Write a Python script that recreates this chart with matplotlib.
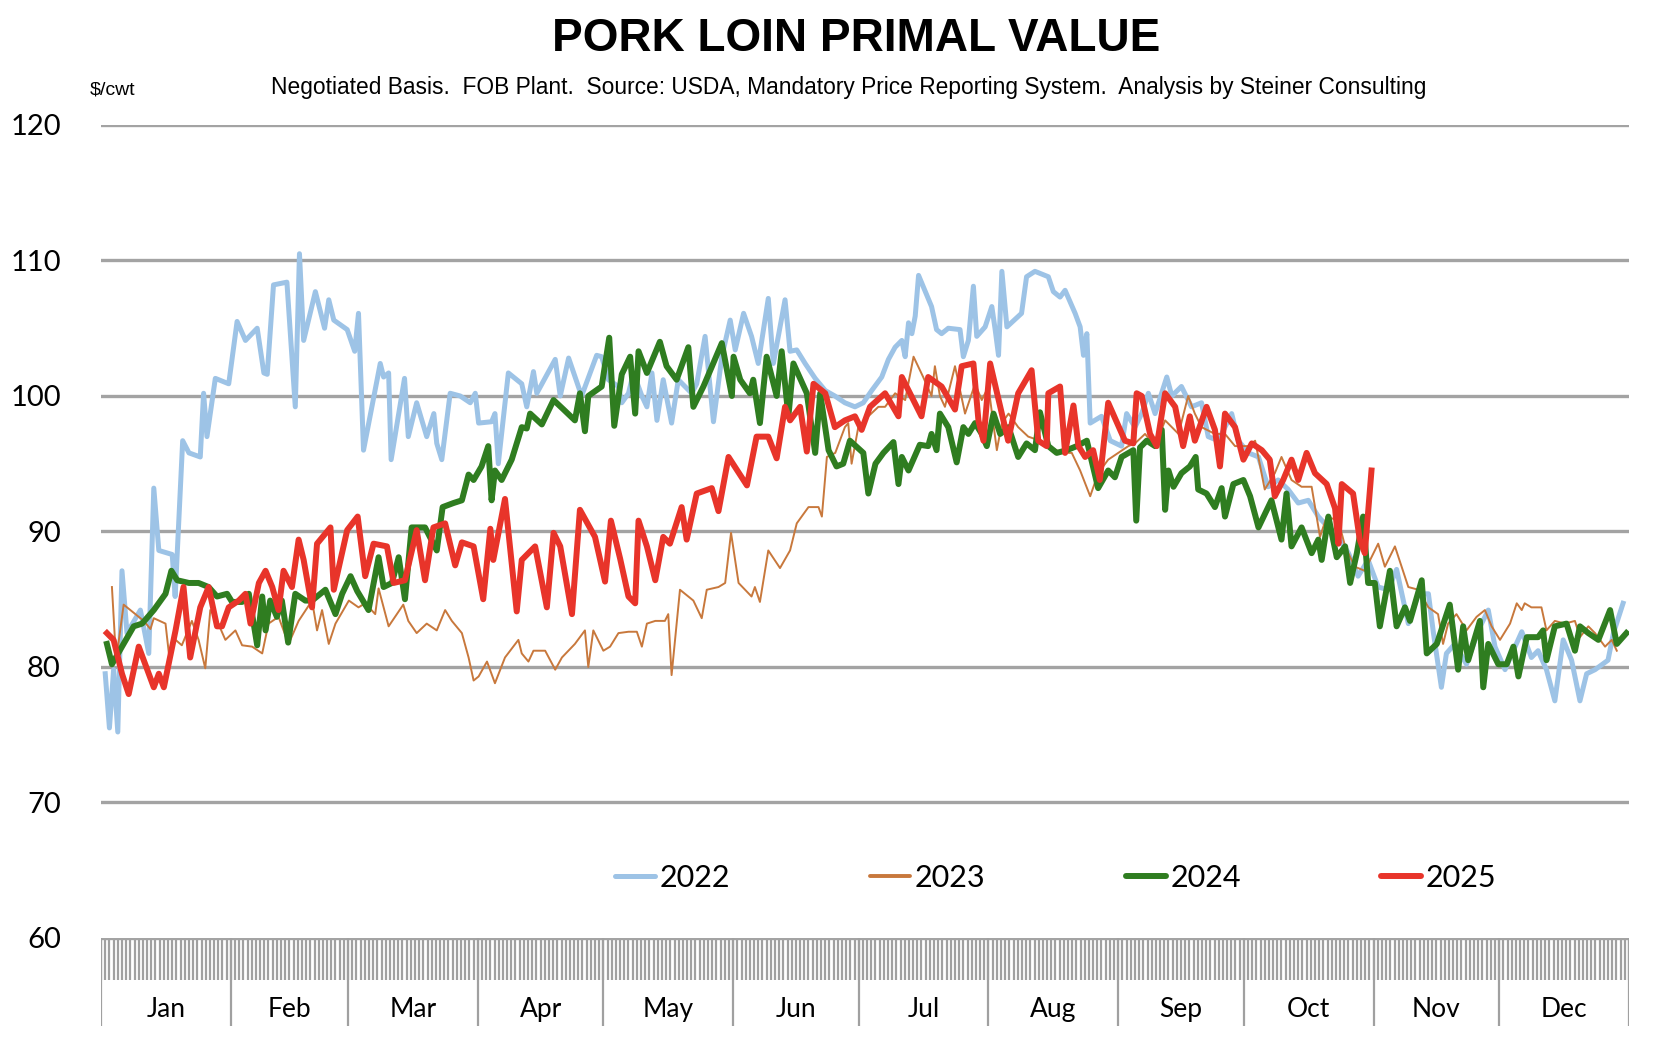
import matplotlib
matplotlib.use("Agg")
import matplotlib.pyplot as plt
from matplotlib.lines import Line2D

plt.rcParams['font.family'] = ['Lato', 'DejaVu Sans']

# month labels and lengths (x axis is day of year)
months = ['Jan', 'Feb', 'Mar', 'Apr', 'May', 'Jun', 'Jul', 'Aug', 'Sep', 'Oct', 'Nov', 'Dec']
month_days = [31, 28, 31, 30, 31, 30, 31, 31, 30, 31, 30, 31]

# pork loin primal value, $/cwt (day of year, value)
day_2022 = [1, 2, 3, 4, 5, 6.2, 9.4, 11.4, 12.6, 13.8, 17, 17.7, 19.5, 21, 23.7, 24.5, 25.3, 27.3,
            30.5, 32.5, 34.5, 37.3, 38.9, 39.7, 41.2, 44.4, 46.4, 47.4, 48.4, 51.2, 53.4, 54.4,
            55.6, 58.8, 60.6, 61.5, 62.7, 66.7, 67.5, 68.7, 69.3, 72.5, 73.4, 75.4, 77.8, 79.5,
            80.2, 81.4, 83.4, 85.8, 88.2, 89.4, 90.2, 93.3, 94.1, 94.9, 97.3, 100.5, 101.7, 103.3,
            104.1, 108.5, 109.7, 111.7, 114.8, 118.4, 119.6, 121.2, 123.6, 124.4, 126, 127.2,
            129.2, 130.4, 131.6, 132.8, 134.3, 136.3, 137.9, 141.1, 142.3, 144.3, 146.3, 148.3,
            150.3, 151.5, 153.5, 155.4, 157, 159.4, 160.6, 163.4, 164.6, 166.2, 168.2, 170.6,
            173, 175.3, 177.7, 180.1, 182.1, 184.1, 186.5, 188.1, 189.7, 191.3, 192.1, 192.9,
            193.7, 194.5, 195.3, 198.4, 199.6, 200.8, 202.4, 205.2, 206, 207.2, 208.4, 209.2,
            211.2, 212.8, 213.6, 214.4, 215.2, 216.4, 219.9, 221.1, 223.1, 226.3, 227.5, 229.1,
            230.3, 232.7, 233.9, 234.7, 235.5, 236.3, 239, 241.1, 243.8, 245, 247, 248.6, 250.2,
            251.8, 254.6, 255.8, 258.1, 260.5, 262.9, 264.5, 266.9, 270.1, 271.7, 274.1, 276.5,
            278.8, 281.2, 283.6, 286, 288.4, 290.8, 293.2, 295.6, 298, 300.3, 302.7, 305.1,
            307.5, 309.5, 312.3, 314.7, 317.1, 318.3, 320.2, 321.4, 323.4, 326.2, 329, 331.4,
            333, 335.4, 337.8, 339.4, 341.7, 343.3, 345.3, 347.3, 349.3, 351.3, 353.3, 354.9,
            356.9, 360, 361.3, 363.6]
loin_2022 = [79.5, 75.5, 79.8, 75.2, 87.1, 82.5, 84.2, 81.0, 93.2, 88.6, 88.3, 85.2, 96.7, 95.8,
             95.5, 100.2, 97.0, 101.3, 100.9, 105.5, 104.1, 105.0, 101.7, 101.6, 108.2, 108.4,
             99.2, 110.5, 104.1, 107.7, 105.0, 107.1, 105.6, 104.9, 103.3, 106.1, 96.0, 102.4,
             101.4, 101.7, 95.3, 101.3, 97.0, 99.5, 97.0, 98.7, 96.5, 95.3, 100.2, 100.0, 99.5,
             100.2, 98.0, 98.1, 98.7, 95.0, 101.7, 100.9, 99.2, 101.8, 100.2, 102.7, 100.0, 102.8,
             100.0, 103.0, 102.9, 101.2, 100.7, 99.5, 100.2, 101.7, 100.0, 99.2, 101.7, 98.2,
             101.2, 98.0, 101.2, 100.2, 100.9, 104.4, 98.1, 102.9, 105.6, 103.4, 106.1, 104.4,
             102.4, 107.2, 102.4, 107.1, 103.3, 103.4, 102.4, 101.3, 100.4, 100.0, 99.5, 99.2,
             99.5, 100.4, 101.4, 102.7, 103.6, 104.1, 102.9, 105.4, 104.6, 105.9, 108.9, 106.6,
             104.9, 104.6, 105.0, 104.9, 102.9, 104.1, 108.1, 104.4, 105.1, 106.6, 104.9, 103.0,
             109.2, 105.1, 106.1, 108.8, 109.2, 108.8, 107.7, 107.3, 107.8, 106.1, 105.1, 103.0,
             104.6, 98.0, 98.5, 96.7, 96.3, 98.7, 97.7, 98.7, 100.2, 98.7, 101.4, 100.0, 100.7,
             99.2, 99.5, 97.0, 96.7, 98.7, 96.7, 95.8, 95.5, 93.3, 93.8, 93.1, 92.1, 92.3, 91.1,
             90.3, 89.6, 88.4, 86.7, 87.9, 85.9, 85.7, 87.2, 83.2, 85.4, 85.4, 82.5, 78.5, 81.0,
             81.7, 80.2, 82.7, 84.2, 81.5, 79.8, 81.5, 82.6, 80.7, 81.2, 79.8, 77.5, 82.0, 80.5,
             77.5, 79.5, 79.8, 80.5, 82.5, 84.7]

day_2023 = [2.6, 3.6, 5.4, 8.2, 10.2, 11.8, 12.6, 15.4, 16.2, 17.8, 19.3, 21.7, 23.3, 24.9, 26.1,
            27.3, 29.7, 32.1, 33.7, 36.1, 38.5, 40.0, 42.4, 44.8, 47.2, 50.4, 51.6, 52.8, 54.4,
            56.0, 59.2, 61.5, 63.1, 65.5, 66.3, 68.7, 72.2, 73.4, 75.4, 77.8, 80.2, 82.2, 83.8,
            86.2, 87.8, 89.0, 90.2, 92.2, 94.1, 96.5, 99.7, 100.5, 102.1, 103.3, 106.1, 108.5,
            110.1, 113.2, 115.6, 116.4, 117.6, 120.0, 121.6, 123.6, 126.0, 128.0, 129.2, 130.4,
            132.4, 134.7, 135.5, 136.3, 138.3, 141.5, 143.5, 144.7, 147.5, 149.1, 150.5, 152.3,
            155.4, 156.2, 157.4, 159.4, 162.2, 164.6, 166.2, 169.0, 171.4, 172.2, 173.4, 175.4,
            177.7, 178.5, 179.3, 180.9, 183.3, 185.7, 187.3, 189.7, 192.1, 194.1, 196.4, 198.4,
            199.2, 200.4, 201.6, 204.0, 206.4, 208.8, 210.4, 212.0, 214.0, 215.2, 216.8, 219.1,
            221.5, 224.3, 226.3, 229.5, 231.9, 233.9, 236.3, 238.2, 240.6, 243.0, 245.4, 247.0,
            249.4, 251.8, 254.2, 257.4, 259.7, 261.3, 262.9, 266.1, 268.5, 270.9, 274.1, 275.7,
            278.0, 280.4, 282.0, 284.4, 286.8, 289.2, 291.2, 292.8, 295.6, 297.2, 299.5, 301.9,
            305.1, 306.7, 309.1, 312.3, 314.7, 317.1, 319.4, 320.6, 321.8, 323.8, 326.2, 328.6,
            330.6, 332.2, 334.2, 336.6, 338.2, 339.4, 340.1, 341.7, 344.1, 345.3, 347.3, 349.7,
            352.1, 353.3, 355.3, 356.9, 359.3, 360.9, 362.1]
loin_2023 = [85.9, 80.5, 84.6, 83.9, 83.4, 82.8, 83.6, 83.2, 81.0, 82.0, 81.6, 83.4, 82.0, 79.9,
             84.2, 83.7, 82.0, 82.7, 81.6, 81.5, 81.0, 83.2, 83.7, 81.7, 83.4, 84.9, 82.7, 84.2,
             81.7, 83.2, 84.9, 84.4, 84.7, 83.9, 85.8, 83.0, 84.6, 83.4, 82.5, 83.2, 82.7, 84.2,
             83.4, 82.5, 80.7, 79.0, 79.3, 80.4, 78.8, 80.7, 82.0, 81.0, 80.4, 81.2, 81.2, 79.8,
             80.7, 81.7, 82.7, 80.0, 82.7, 81.2, 81.5, 82.5, 82.6, 82.6, 81.5, 83.2, 83.4, 83.4,
             83.9, 79.4, 85.7, 84.9, 83.6, 85.7, 85.9, 86.2, 89.9, 86.2, 85.2, 85.9, 84.8, 88.6,
             87.3, 88.6, 90.6, 91.8, 91.8, 91.1, 95.5, 95.8, 97.7, 98.0, 95.0, 97.7, 98.5, 99.2,
             99.2, 100.2, 99.7, 102.9, 101.4, 100.0, 102.2, 100.0, 99.2, 102.2, 98.7, 100.9, 99.7,
             100.7, 96.0, 98.0, 98.7, 97.7, 97.0, 96.7, 96.3, 95.8, 95.8, 94.5, 92.6, 94.3, 95.3,
             95.8, 96.3, 96.5, 97.2, 96.3, 98.2, 97.2, 100.0, 98.7, 97.7, 97.2, 97.2, 96.3, 96.3,
             96.7, 93.1, 94.3, 95.5, 93.8, 93.3, 93.3, 89.6, 91.1, 90.8, 88.9, 87.4, 87.1, 89.1,
             87.4, 88.9, 85.9, 85.7, 84.4, 83.9, 81.7, 83.2, 83.9, 82.7, 83.7, 84.2, 83.0, 82.0,
             83.2, 84.7, 84.2, 84.7, 84.4, 84.4, 82.7, 83.4, 83.2, 83.4, 82.2, 83.0, 82.5, 81.5,
             82.0, 81.2]

day_2024 = [1.4, 2.6, 5.0, 7.8, 9.8, 12.6, 15.4, 16.8, 18.2, 21.0, 23.3, 25.7, 27.7, 30.1, 31.3,
            33.7, 35.3, 37.3, 38.5, 39.3, 40.4, 42.0, 43.2, 44.7, 46.4, 48.8, 50.4, 53.6, 56.0,
            57.6, 59.6, 61.2, 63.9, 66.3, 67.5, 69.5, 71.1, 72.6, 74.2, 77.4, 80.2, 81.6, 84.2,
            86.2, 87.8, 89.0, 90.9, 92.5, 93.3, 94.1, 95.7, 98.1, 100.5, 101.7, 102.5, 105.3,
            108.1, 110.5, 113.2, 114.4, 115.6, 116.4, 119.6, 121.4, 122.6, 124.4, 126.4, 127.6,
            128.4, 130.4, 133.5, 135.1, 137.5, 140.3, 141.5, 143.9, 148.3, 150.7, 151.1, 152.7,
            155.0, 155.8, 157.4, 159.0, 161.4, 162.6, 164.2, 165.4, 168.6, 170.6, 171.8, 173.8,
            175.7, 177.3, 178.9, 182.1, 183.3, 185.0, 186.9, 189.3, 190.5, 191.3, 192.9, 195.6,
            197.6, 198.4, 199.6, 200.4, 202.4, 204.4, 206.0, 207.2, 208.8, 210.4, 211.6, 213.2,
            214.8, 216.8, 219.1, 221.1, 223.1, 224.3, 226.3, 228.3, 230.7, 233.1, 235.5, 238.2,
            240.6, 242.2, 243.8, 246.6, 247.3, 248.2, 249.8, 251.8, 253.4, 254.2, 255.0, 256.2,
            258.1, 260.1, 261.5, 262.1, 264.1, 266.1, 267.7, 268.5, 270.5, 272.9, 274.5, 276.5,
            279.6, 282.0, 283.2, 284.4, 286.8, 289.2, 290.8, 291.6, 293.2, 295.2, 297.2, 298.4,
            300.0, 301.5, 302.7, 304.3, 305.5, 307.9, 309.5, 311.5, 312.7, 315.5, 316.7, 319.1,
            322.2, 324.2, 325.4, 326.6, 329.4, 330.2, 331.4, 333.8, 335.8, 337.4, 338.6, 340.6,
            343.3, 344.5, 345.3, 347.3, 350.1, 352.1, 353.3, 355.3, 357.7, 360.5, 362.1, 364.4]
loin_2024 = [81.7, 80.2, 81.5, 83.0, 83.2, 84.2, 85.4, 87.1, 86.4, 86.2, 86.2, 85.9, 85.2, 85.4,
             84.8, 84.8, 85.4, 81.6, 85.2, 82.7, 84.9, 83.7, 84.9, 81.8, 85.4, 84.9, 84.9, 85.7,
             83.9, 85.4, 86.7, 85.6, 84.2, 88.1, 85.9, 86.2, 88.1, 85.0, 90.3, 90.3, 88.6, 91.8,
             92.1, 92.3, 94.2, 93.8, 94.8, 96.3, 92.3, 94.5, 93.8, 95.3, 97.7, 97.6, 98.7, 97.9,
             99.7, 99.0, 98.2, 100.2, 97.4, 100.0, 100.7, 104.3, 97.8, 101.6, 102.9, 98.7, 103.3,
             101.7, 104.0, 102.2, 101.2, 103.6, 99.2, 100.7, 103.9, 100.0, 102.9, 101.2, 100.2,
             101.2, 98.0, 102.9, 100.0, 103.3, 98.5, 102.4, 100.2, 95.8, 100.2, 96.0, 94.8, 95.0,
             96.7, 95.8, 92.8, 95.0, 95.8, 96.6, 93.5, 95.5, 94.5, 96.4, 96.3, 97.2, 96.0, 98.7,
             97.7, 95.1, 97.7, 97.2, 98.0, 97.2, 96.3, 98.7, 97.2, 97.7, 95.5, 96.5, 96.0, 98.8,
             96.3, 95.8, 96.0, 96.3, 96.7, 93.2, 94.5, 94.0, 95.5, 96.0, 90.8, 96.2, 96.7, 96.3,
             97.5, 91.6, 94.5, 93.3, 94.3, 94.8, 95.5, 93.1, 92.8, 91.8, 93.2, 91.1, 93.5, 93.8,
             92.6, 90.3, 92.3, 89.4, 92.8, 88.9, 90.3, 88.4, 89.4, 87.9, 91.1, 88.1, 88.9, 86.2,
             88.4, 91.1, 86.2, 86.2, 83.0, 87.1, 83.0, 84.4, 83.4, 86.4, 81.0, 81.7, 84.6, 79.8,
             83.0, 80.5, 83.4, 78.5, 81.7, 80.2, 80.2, 81.5, 79.3, 82.2, 82.2, 82.7, 80.5, 83.0,
             83.2, 81.2, 83.0, 82.5, 82.0, 84.2, 81.7, 82.5]

day_2025 = [1.4, 3.0, 5.0, 6.6, 9.0, 12.6, 13.8, 15.0, 17.8, 19.7, 21.3, 23.7, 25.7, 27.7, 28.9,
            30.5, 32.9, 34.5, 35.7, 37.7, 39.3, 40.9, 42.4, 43.6, 45.6, 47.2, 48.4, 50.4, 51.6,
            54.8, 55.6, 58.8, 61.3, 63.1, 65.1, 68.3, 69.9, 72.6, 75.4, 77.4, 79.4, 82.2, 84.6,
            86.2, 89.0, 91.3, 93.0, 93.7, 96.5, 99.3, 100.5, 103.7, 106.5, 108.1, 109.7, 112.5,
            114.4, 118.0, 120.4, 121.8, 124.0, 126.0, 127.6, 128.4, 130.4, 132.4, 134.3, 135.9,
            138.7, 139.9, 142.3, 145.9, 147.5, 149.9, 154.3, 156.6, 159.4, 161.4, 163.4, 164.6,
            167.0, 168.6, 170.2, 173.0, 175.3, 177.7, 180.1, 181.7, 183.7, 187.3, 190.5, 191.3,
            196.0, 197.6, 200.8, 204.0, 205.6, 208.4, 209.6, 210.8, 212.4, 216.7, 219.1, 222.3,
            223.9, 225.9, 226.3, 229.1, 230.3, 232.3, 233.5, 235.1, 237.0, 238.6, 240.6, 244.6,
            246.6, 247.4, 248.6, 250.6, 252.2, 254.2, 256.6, 258.5, 260.1, 261.3, 264.1, 266.1,
            267.3, 268.5, 270.9, 272.9, 274.9, 277.3, 279.2, 280.4, 282.4, 284.4, 286.0, 288.0,
            290.0, 292.8, 294.8, 295.6, 296.4, 299.1, 300.7, 301.9, 303.5]
loin_2025 = [82.5, 82.0, 79.5, 78.0, 81.5, 78.5, 79.5, 78.5, 82.7, 85.9, 80.7, 84.4, 85.9, 83.0,
             83.0, 84.4, 84.9, 85.4, 83.2, 86.2, 87.1, 85.9, 84.2, 87.1, 85.9, 89.4, 87.9, 84.4,
             89.1, 90.3, 85.7, 90.1, 91.1, 86.7, 89.1, 88.9, 86.2, 86.4, 90.1, 86.4, 90.3, 90.6,
             87.5, 89.2, 88.9, 85.0, 90.2, 87.9, 92.4, 84.1, 87.9, 88.9, 84.4, 89.9, 88.9, 83.9,
             91.6, 89.6, 86.3, 90.8, 88.0, 85.2, 84.7, 90.8, 88.9, 86.4, 89.6, 89.1, 91.8, 89.4,
             92.8, 93.2, 91.5, 95.5, 93.4, 97.0, 97.0, 95.4, 99.2, 98.2, 99.2, 95.9, 100.9, 100.2,
             97.7, 98.2, 98.5, 97.5, 99.2, 100.2, 98.5, 101.4, 98.5, 101.4, 100.7, 99.0, 102.2,
             102.4, 98.2, 96.7, 102.4, 96.7, 100.2, 101.9, 96.7, 96.3, 100.2, 100.7, 95.8, 99.3,
             96.3, 95.5, 96.0, 93.8, 99.5, 96.7, 96.5, 100.2, 100.0, 97.2, 96.3, 100.2, 99.2, 96.3,
             98.5, 96.7, 99.2, 97.5, 94.8, 98.7, 97.7, 95.3, 96.5, 96.0, 95.3, 92.6, 93.8, 95.3,
             93.8, 95.8, 94.3, 93.5, 91.7, 89.1, 93.5, 92.8, 89.4, 88.4, 94.5]

years = ['2022', '2023', '2024', '2025']
colors = ['#9DC3E6', '#C8783C', '#2F7D20', '#E8342A']
widths = [3.6, 1.4, 4.3, 4.3]
legend_widths = [3.6, 2.8, 4.3, 4.3]

fig = plt.figure(figsize=(16.62, 10.62), dpi=100)
ax = fig.add_axes([0.0608, 0.1168, 0.9193, 0.7655])
ax.set_xlim(0, 365)
ax.set_ylim(60, 120)
for s in ax.spines.values():
    s.set_visible(False)
for y in range(70, 121, 10):
    ax.axhline(y, color='#A3A3A3', lw=2.4, zorder=0)
ax.set_xticks([])
ax.set_yticks(range(60, 121, 10))
ax.tick_params(axis='y', length=0, pad=29, labelsize=21)

series = [(day_2022, loin_2022), (day_2023, loin_2023), (day_2024, loin_2024), (day_2025, loin_2025)]
for (d, v), name, c, w in zip(series, years, colors, widths):
    ax.plot(d, v, color=c, lw=w, label=name, solid_joinstyle='round')

handles = [Line2D([], [], color=c, lw=w, solid_capstyle='round') for c, w in zip(colors, legend_widths)]
leg = ax.legend(handles, years, ncol=4, loc='center left',
                bbox_to_anchor=(615 / 1662, 1 - 878 / 1062), bbox_transform=fig.transFigure,
                frameon=False, handlelength=1.3, handletextpad=0.15, columnspacing=4.6,
                borderpad=0, borderaxespad=0, fontsize=22)

# daily tick strip under the plot
starts = [0]
for n in month_days:
    starts.append(starts[-1] + n)

strip = fig.add_axes([0.0608, 1 - 980 / 1062, 0.9193, 42 / 1062])
strip.set_xlim(0, 365)
strip.set_ylim(0, 1)
strip.axis('off')
strip.vlines(range(0, 366), 0, 1, color='#A0A0A0', lw=1.6)
strip.axhline(1, color='#A3A3A3', lw=2.4)

mon = fig.add_axes([0.0608, 1 - 1026 / 1062, 0.9193, 88 / 1062])
mon.set_xlim(0, 365)
mon.set_ylim(0, 1)
mon.axis('off')
mon.patch.set_alpha(0)
mon.vlines(starts, 0, 1, color='#A0A0A0', lw=1.6)
for i, m in enumerate(months):
    mon.text((starts[i] + starts[i + 1]) / 2, 0.19, m, ha='center', va='center', fontsize=19)

fig.text(0.515, 0.963, 'PORK LOIN PRIMAL VALUE', ha='center', va='center',
         fontsize=33, fontweight='bold', family='Liberation Sans')
fig.text(0.5105, 0.918,
         'Negotiated Basis.  FOB Plant.  Source: USDA, Mandatory Price Reporting System.  Analysis by Steiner Consulting',
         ha='center', va='center', fontsize=16.4, family='Liberation Sans')
fig.text(90 / 1662, 1 - 90 / 1062, '$/cwt', ha='left', va='center', fontsize=14,
         family='Liberation Sans')

fig.savefig('out.png', dpi=100)
